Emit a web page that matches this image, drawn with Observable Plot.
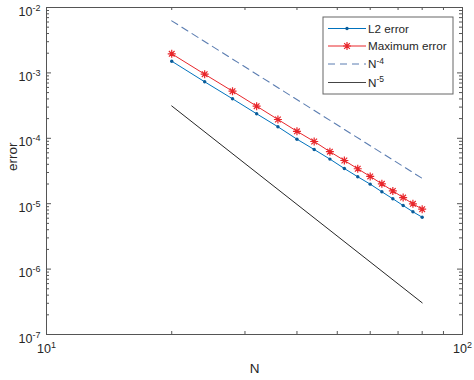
<!DOCTYPE html>
<html><head><meta charset="utf-8">
<script src="https://cdn.jsdelivr.net/npm/d3@7"></script>
<script src="https://cdn.jsdelivr.net/npm/@observablehq/plot@0.6"></script>
<style>
body{margin:0;background:#fff;}
#chart{position:relative;width:474px;height:380px;}
svg{font-family:"Liberation Sans",Arial,Helvetica,sans-serif;}
</style>
</head><body><div id="chart"></div>
<script>
// ---- data ----
const N = [20, 24, 28, 32, 36, 40, 44, 48, 52, 56, 60, 64, 68, 72, 76, 80];
const l2Error = [1.51e-3, 7.31e-4, 4.02e-4, 2.37e-4, 1.50e-4, 9.69e-5, 6.74e-5, 4.81e-5,
                 3.45e-5, 2.58e-5, 1.99e-5, 1.52e-5, 1.19e-5, 9.38e-6, 7.52e-6, 6.22e-6];
const maxError = [1.96e-3, 9.55e-4, 5.25e-4, 3.10e-4, 1.94e-4, 1.28e-4, 8.93e-5, 6.24e-5,
                  4.58e-5, 3.42e-5, 2.61e-5, 2.01e-5, 1.57e-5, 1.24e-5, 9.96e-6, 8.24e-6];
const refN = [20, 80];
const refN4 = [6.25e-3, 2.44e-5];
const refN5 = [3.125e-4, 3.05e-7];
const xTicks = [10, 100];
const xTickLabels = ["10^1", "10^2"];
const xMinor = [20, 30, 40, 50, 60, 70, 80, 90];
const yTicks = [1e-7, 1e-6, 1e-5, 1e-4, 1e-3, 1e-2];
const yTickLabels = ["10^-7", "10^-6", "10^-5", "10^-4", "10^-3", "10^-2"];
const yMinorFactors = [2, 3, 4, 5, 6, 7, 8, 9];
const legendLabels = ["L2 error", "Maximum error", "N^-4", "N^-5"];
const xLabel = "N";
const yLabel = "error";

// ---- style ----
const W = 474, H = 380;
const mL = 46, mR = 12, mT = 7, mB = 46;
const iw = W - mL - mR, ih = H - mT - mB;
const blue = "#0072BD", red = "#e8262b", dashCol = "#5b7db1", blackCol = "#262626";
const axisCol = "#555", textCol = "#262626";
const majorLen = 5, minorLen = 3;

const yMinor = [];
for (let i = 0; i < yTicks.length - 1; i++) for (const f of yMinorFactors) yMinor.push(yTicks[i] * f);

const l2 = N.map((n, i) => ({n, v: l2Error[i]}));
const mx = N.map((n, i) => ({n, v: maxError[i]}));
const r4 = refN.map((n, i) => ({n, v: refN4[i]}));
const r5 = refN.map((n, i) => ({n, v: refN5[i]}));

const asterisk = {
  draw(ctx, size) {
    const r = Math.sqrt(size / Math.PI);
    const d = r / Math.SQRT2;
    ctx.moveTo(-r, 0); ctx.lineTo(r, 0);
    ctx.moveTo(0, -r); ctx.lineTo(0, r);
    ctx.moveTo(-d, -d); ctx.lineTo(d, d);
    ctx.moveTo(-d, d); ctx.lineTo(d, -d);
  }
};

const chart = Plot.plot({
  width: W, height: H,
  marginLeft: mL, marginRight: mR, marginTop: mT, marginBottom: mB,
  style: {background: "#fff", color: textCol, fontSize: "12.5px"},
  x: {type: "log", domain: [10, 100], axis: null},
  y: {type: "log", domain: [1e-7, 1e-2], axis: null},
  marks: [
    Plot.line(r4, {x: "n", y: "v", stroke: dashCol, strokeWidth: 1.1, strokeDasharray: "7,5"}),
    Plot.line(r5, {x: "n", y: "v", stroke: blackCol, strokeWidth: 1}),
    Plot.line(l2, {x: "n", y: "v", stroke: blue, strokeWidth: 1}),
    Plot.line(mx, {x: "n", y: "v", stroke: red, strokeWidth: 1}),
    Plot.dot(l2, {x: "n", y: "v", r: 1.7, fill: "#0a5c99", stroke: "none"}),
    Plot.dot(mx, {x: "n", y: "v", r: 4, symbol: asterisk, stroke: red, fill: "none", strokeWidth: 1.2}),
    // minor ticks
    Plot.tickX(xMinor, {x: d => d, insetTop: ih - minorLen, stroke: axisCol}),
    Plot.tickX(xMinor, {x: d => d, insetBottom: ih - minorLen, stroke: axisCol}),
    Plot.tickY(yMinor, {y: d => d, insetRight: iw - minorLen, stroke: axisCol}),
    Plot.tickY(yMinor, {y: d => d, insetLeft: iw - minorLen, stroke: axisCol}),
    // major ticks
    Plot.tickY(yTicks, {y: d => d, insetRight: iw - majorLen, stroke: axisCol}),
    Plot.tickY(yTicks, {y: d => d, insetLeft: iw - majorLen, stroke: axisCol}),
    Plot.frame({stroke: axisCol, strokeWidth: 1}),
    Plot.axisX({ticks: xTicks, tickSize: 0, tickPadding: 10, tickFormat: d => xTickLabels[xTicks.indexOf(d)], label: null, fontSize: 12.5}),
    Plot.axisY({ticks: yTicks, tickSize: 0, tickPadding: 6, dy: 4, tickFormat: d => yTickLabels[yTicks.indexOf(d)], label: null, fontSize: 12.5}),
    Plot.text([xLabel], {text: d => d, frameAnchor: "bottom", dy: 38, fontSize: 13.5, fill: textCol}),
    Plot.text([yLabel], {text: d => d, frameAnchor: "left", dx: -34, rotate: -90, fontSize: 13.5, fill: textCol})
  ]
});

document.getElementById("chart").appendChild(chart);
const svg = d3.select(chart);

function supify(el, supSize, shift) {
  const s = el.textContent;
  const m = s.match(/^(.*?)\^(.*)$/);
  if (!m) return;
  el.textContent = m[1];
  const t = document.createElementNS("http://www.w3.org/2000/svg", "tspan");
  t.setAttribute("dy", shift);
  t.setAttribute("font-size", supSize);
  t.textContent = m[2];
  el.appendChild(t);
}
svg.selectAll("text").each(function () { supify(this, 9, -5); });

// ---- legend ----
const lx = 323, ly = 17, lw = 130, lh = 77;
const lg = svg.append("g").attr("class", "legend").attr("text-anchor", "start");
lg.append("rect").attr("x", lx).attr("y", ly).attr("width", lw).attr("height", lh)
  .attr("fill", "#fff").attr("stroke", "#666").attr("stroke-width", 1);
const rowY = [28.5, 46, 64, 82.5];
const styles = [
  {stroke: blue, dash: null, marker: "dot"},
  {stroke: red, dash: null, marker: "ast"},
  {stroke: dashCol, dash: "7,5", marker: null},
  {stroke: "#444", dash: null, marker: null}
];
legendLabels.forEach((lab, i) => {
  const y = rowY[i], st = styles[i];
  const ln = lg.append("line").attr("x1", lx + 5).attr("x2", lx + 43).attr("y1", y).attr("y2", y)
    .attr("stroke", st.stroke).attr("stroke-width", 1);
  if (st.dash) ln.attr("stroke-dasharray", st.dash);
  const cx = lx + 24;
  if (st.marker === "dot") lg.append("circle").attr("cx", cx).attr("cy", y).attr("r", 1.7).attr("fill", "#0a5c99");
  if (st.marker === "ast") {
    const p = d3.path(); asterisk.draw(p, Math.PI * 16);
    lg.append("path").attr("d", p.toString()).attr("transform", `translate(${cx},${y})`)
      .attr("stroke", red).attr("fill", "none").attr("stroke-width", 1.2);
  }
  const t = lg.append("text").attr("x", lx + 45).attr("y", y).attr("dy", "0.35em")
    .attr("text-anchor", "start").attr("font-size", 11.7).attr("fill", textCol).text(lab);
  supify(t.node(), 8.5, -4.5);
});
</script>
</body></html>
